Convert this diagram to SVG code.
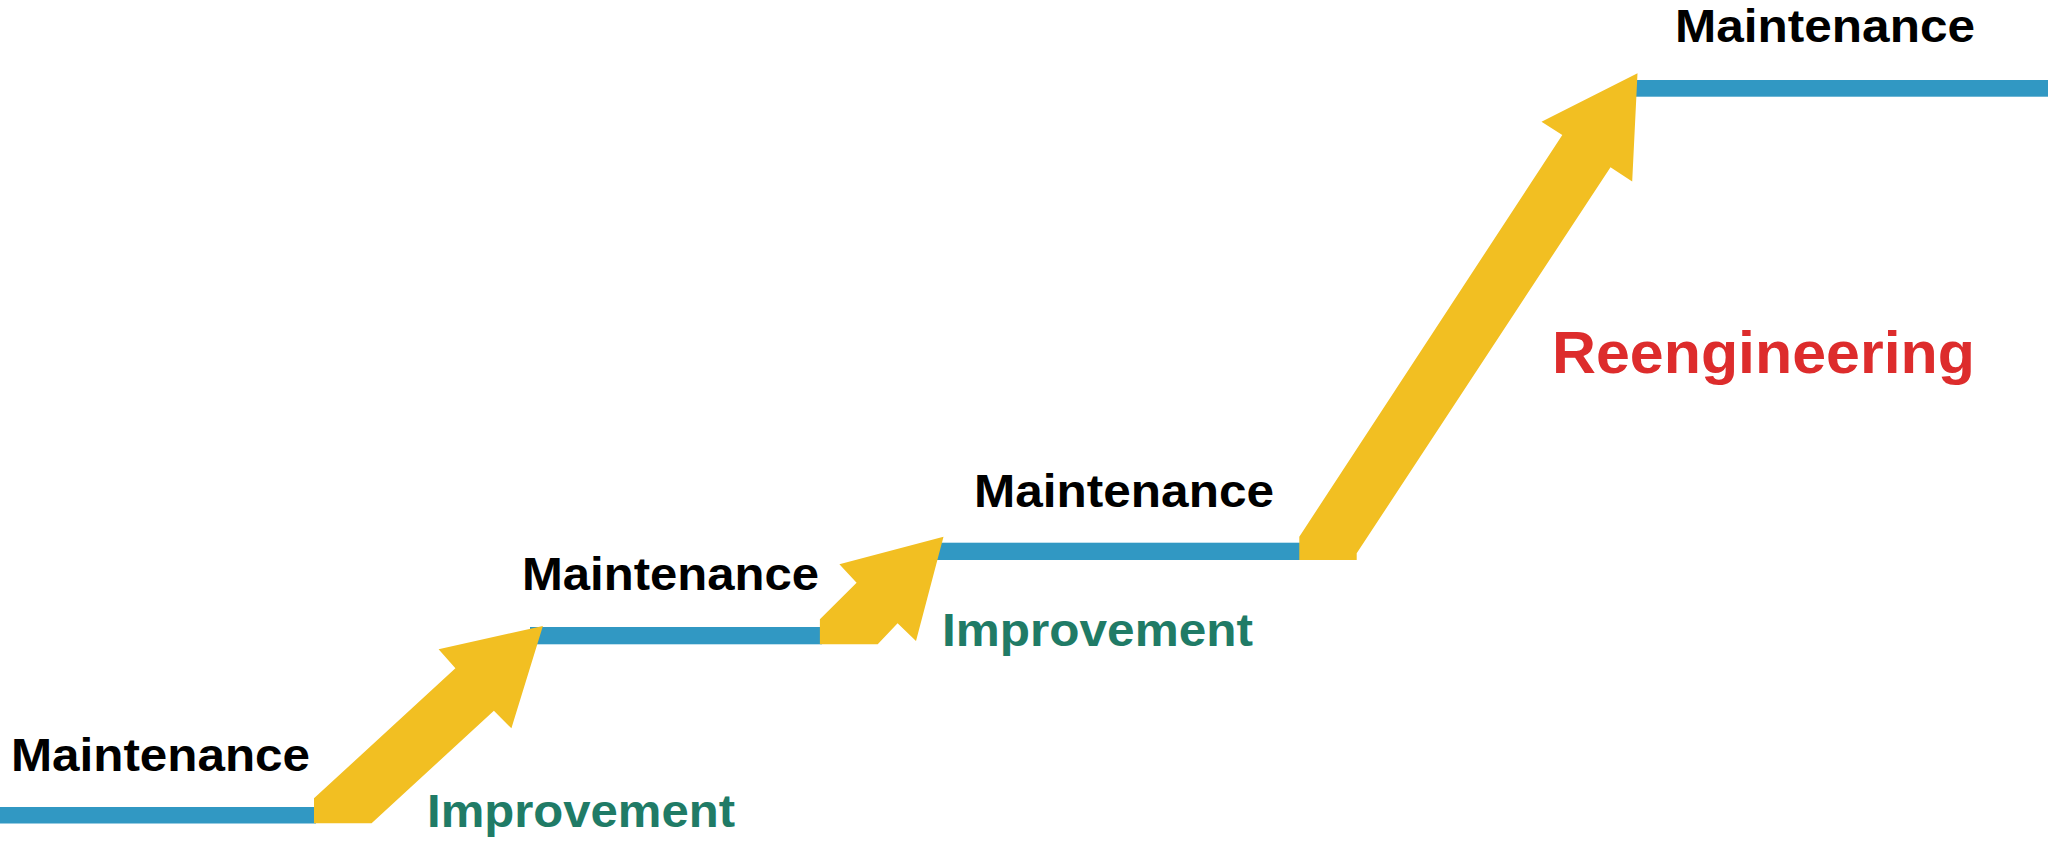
<svg xmlns="http://www.w3.org/2000/svg" width="2048" height="841" viewBox="0 0 2048 841">
<style>
.line{fill:#3198C3}
.arrow{fill:#F2BF22}
.maint{font-family:"Liberation Sans",Arial,sans-serif;font-weight:700;font-size:46px;fill:#000}
.impr{font-family:"Liberation Sans",Arial,sans-serif;font-weight:700;font-size:46px;fill:#207B66}
.reeng{font-family:"Liberation Sans",Arial,sans-serif;font-weight:700;font-size:60px;fill:#DD2C2C}
</style>
<rect width="2048" height="841" fill="#fff"/>
<g id="step1">
<rect class="line" x="0" y="807" width="316" height="16.5"/>
<text class="maint" x="11" y="771" textLength="299" lengthAdjust="spacingAndGlyphs">Maintenance</text>
</g>
<g id="step2">
<rect class="line" x="530" y="627" width="292" height="17.3"/>
<text class="maint" x="522" y="590" textLength="297" lengthAdjust="spacingAndGlyphs">Maintenance</text>
</g>
<g id="step3">
<rect class="line" x="930" y="542.7" width="371" height="17.3"/>
<text class="maint" x="974" y="507" textLength="300" lengthAdjust="spacingAndGlyphs">Maintenance</text>
</g>
<g id="step4">
<rect class="line" x="1630" y="80" width="418" height="16.7"/>
<text class="maint" x="1675" y="42" textLength="300" lengthAdjust="spacingAndGlyphs">Maintenance</text>
</g>
<g id="connectors">
<polygon class="arrow" points="314,823.3 314,798.3 455.4,668.3 438.6,649.3 542.9,626 511.4,728.3 493.9,710.7 371.6,823.3"/>
<polygon class="arrow" points="819.9,644.3 819.9,619.3 856.6,582.7 839.4,564.3 943.5,536.7 916,641 897.6,623.3 877.7,644.3"/>
<polygon class="arrow" points="1299.3,560 1299.3,536.7 1562.3,135 1541.5,121.7 1637.5,73.3 1632.2,181.5 1610.5,167.2 1356.7,553.3 1356.7,560"/>
</g>
<g id="label-improvement-1">
<text class="impr" x="427" y="827" textLength="308" lengthAdjust="spacingAndGlyphs">Improvement</text>
</g>
<g id="label-improvement-2">
<text class="impr" x="942" y="645.7" textLength="311" lengthAdjust="spacingAndGlyphs">Improvement</text>
</g>
<g id="label-reengineering">
<text class="reeng" x="1552" y="372.7" textLength="423" lengthAdjust="spacingAndGlyphs">Reengineering</text>
</g>
</svg>
